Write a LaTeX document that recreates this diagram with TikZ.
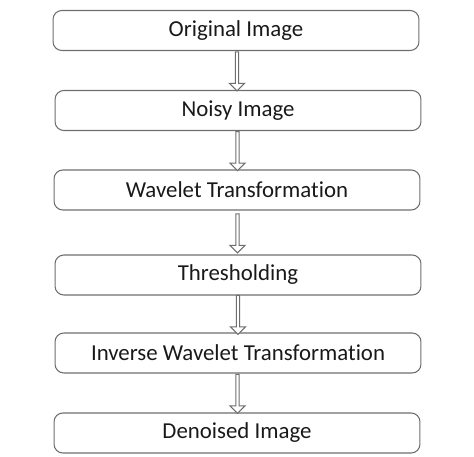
\documentclass[tikz,border=0pt]{standalone}
\usepackage{fontspec}
\setmainfont{Carlito}[Ligatures={NoCommon,NoRare}]
\usetikzlibrary{shapes.arrows}
\definecolor{boxline}{RGB}{110,110,110}
\definecolor{boxtext}{RGB}{25,25,25}
\begin{document}
\begin{tikzpicture}[x=0.02cm, y=-0.02cm,
  stage/.style = {draw = boxline, line width = 0.6pt, rounded corners = 5pt,
    minimum width = 7.32cm, minimum height = 0.8cm, inner sep = 0pt,
    text = boxtext, font = \fontsize{13}{15}\selectfont},
  flow/.style = {single arrow, draw = boxline, line width = 0.6pt, fill = white,
    minimum width = 0.3cm, single arrow head extend = 0.04cm,
    single arrow head indent = 0pt, inner sep = 0pt, shape border rotate = 270,
    minimum height = 0.78cm}]
\useasboundingbox (0,0) rectangle (474,457);
\node[stage] (orig) at (236,30.5) {Original Image};
\node[stage] (noisy) at (238,110.5) {Noisy Image};
\node[stage] (wav) at (237,190) {Wavelet Transformation};
\node[stage] (thr) at (238,275) {Thresholding};
\node[stage] (inv) at (238,353) {Inverse Wavelet Transformation};
\node[stage] (den) at (237,433) {Denoised Image};
\path (orig.south) -- (noisy.north) node[flow, midway] (a1) {};
\path (noisy.south) -- (wav.north) node[flow, midway] (a2) {};
\path (wav.south) -- (thr.north) node[flow, midway] (a3) {};
\path (thr.south) -- (inv.north) node[flow, midway] (a4) {};
\path (inv.south) -- (den.north) node[flow, midway] (a5) {};
\end{tikzpicture}
\end{document}
